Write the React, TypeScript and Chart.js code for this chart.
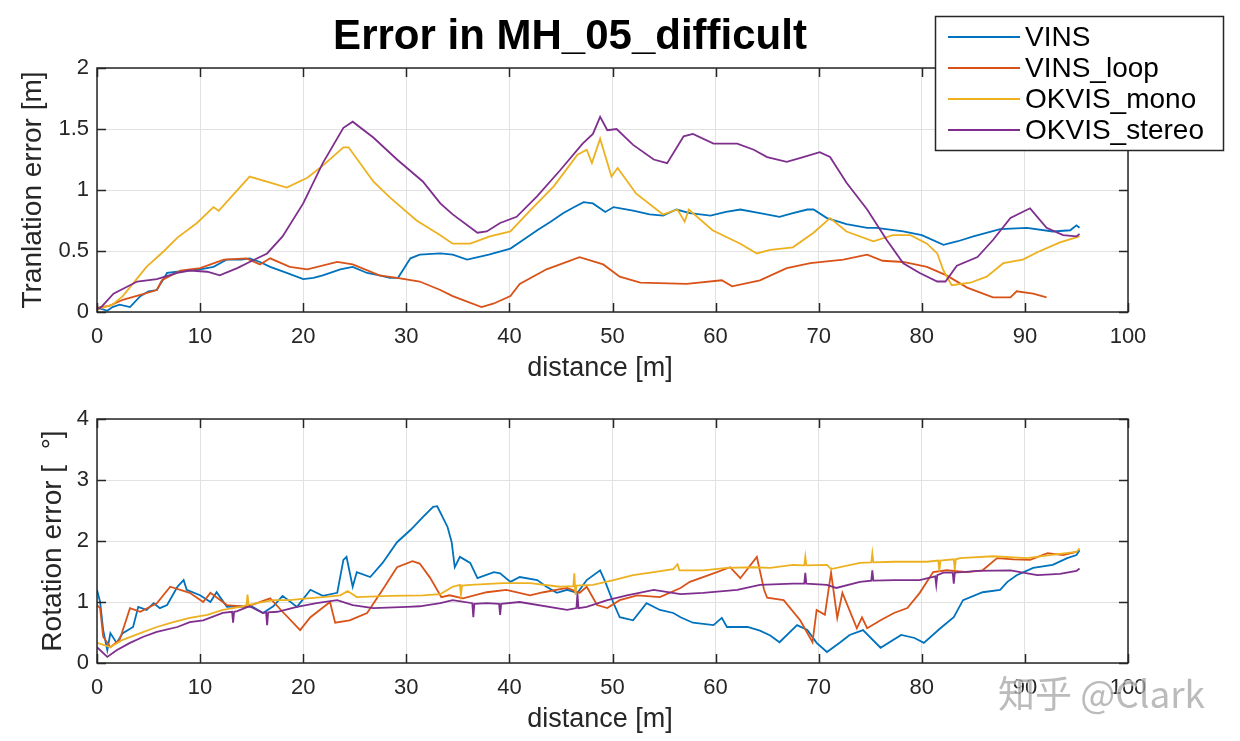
import React, { useEffect, useRef } from "react";
import { Chart, registerables } from "chart.js";

Chart.register(...registerables);

// ---- series meta ----
const SERIES_NAMES = ["VINS", "VINS_loop", "OKVIS_mono", "OKVIS_stereo"];
const SERIES_COLORS = ["#0072BD", "#D95319", "#EDB120", "#7E2F8E"];

const PLOT_TITLE = "Error in MH_05_difficult";
const X_TITLE = "distance [m]";
const TRANS_Y_TITLE = "Tranlation error [m]";
const ROT_Y_TITLE = "Rotation error [  °]";
const WATERMARK = "知乎 @Clark";

const X_MIN = 0;
const X_MAX = 100;
const X_STEP = 10;
const TRANS_Y_MAX = 2;
const TRANS_Y_STEP = 0.5;
const ROT_Y_MAX = 4;
const ROT_Y_STEP = 1;

// ---- translation error [m] vs distance [m] ----
const vinsTranslation: [number, number][] = [
  [0, 0.03], [0.3, 0.03], [1, 0.01], [1.5, 0.04], [2.2, 0.06], [3.2, 0.04], [4.2, 0.13], [5, 0.17],
  [5.8, 0.18], [6.8, 0.32], [7.8, 0.33], [8.7, 0.34], [10, 0.35], [11.3, 0.37], [12.6, 0.43], [14, 0.43],
  [14.8, 0.44], [15.8, 0.41], [16.8, 0.37], [18.4, 0.32], [20, 0.27], [21, 0.28], [21.9, 0.3], [23.6, 0.35],
  [24.8, 0.37], [26.2, 0.32], [27.4, 0.3], [28.4, 0.28], [29.2, 0.28], [30.4, 0.44], [31.3, 0.47], [33.3, 0.48],
  [34.5, 0.47], [35.9, 0.43], [38, 0.47], [40.1, 0.52], [41.5, 0.6], [42.7, 0.67], [44, 0.74], [45.2, 0.81],
  [46.3, 0.86], [47.2, 0.9], [48.1, 0.89], [49.3, 0.82], [50.1, 0.86], [52, 0.83], [53.6, 0.8], [54.9, 0.79],
  [56.2, 0.84], [57.5, 0.81], [59.5, 0.79], [61, 0.82], [62.4, 0.84], [64.3, 0.81], [66.2, 0.78], [67.5, 0.81],
  [68.9, 0.84], [69.5, 0.84], [70.8, 0.77], [72.7, 0.72], [74.7, 0.69], [75.6, 0.69], [78.2, 0.66], [80, 0.63],
  [82.1, 0.55], [83.5, 0.58], [85, 0.62], [87.6, 0.68], [90.2, 0.69], [92.7, 0.66], [94.4, 0.67], [95, 0.71],
  [95.3, 0.69],
];

const vinsLoopTranslation: [number, number][] = [
  [0, 0.03], [0.3, 0.04], [1.2, 0.05], [2.5, 0.1], [4.2, 0.14], [5.8, 0.18], [6.3, 0.26], [8.1, 0.34],
  [10, 0.36], [12.3, 0.43], [14.5, 0.44], [15.8, 0.39], [16.8, 0.44], [18.7, 0.37], [20.4, 0.35], [23.3, 0.41],
  [24.8, 0.39], [27.4, 0.3], [29.1, 0.28], [31.3, 0.25], [33.3, 0.18], [34.5, 0.13], [37.3, 0.04], [38.5, 0.07],
  [40.1, 0.13], [41, 0.23], [43.6, 0.35], [46.8, 0.45], [49.1, 0.39], [50.7, 0.29], [52.7, 0.24], [57.2, 0.23],
  [60.6, 0.26], [61.6, 0.21], [64.3, 0.26], [66.9, 0.36], [69.2, 0.4], [72.4, 0.43], [74.7, 0.47], [76.2, 0.42],
  [78.2, 0.41], [80.5, 0.37], [82.4, 0.3], [84.4, 0.2], [86.9, 0.12], [88.6, 0.12], [89.2, 0.17], [90.8, 0.15],
  [92.1, 0.12],
];

const okvisMonoTranslation: [number, number][] = [
  [0, 0.02], [0.3, 0.03], [1.5, 0.06], [2.5, 0.13], [4.8, 0.37], [6.5, 0.5], [7.8, 0.61], [9.7, 0.73],
  [11.3, 0.86], [11.8, 0.83], [13.2, 0.96], [14.8, 1.11], [16.8, 1.06], [18.4, 1.02], [20.4, 1.1], [21.9, 1.2],
  [23.9, 1.35], [24.4, 1.35], [26.8, 1.07], [28.4, 0.94], [31, 0.75], [33.3, 0.63], [34.5, 0.56], [36.2, 0.56],
  [38.1, 0.62], [40.1, 0.66], [42, 0.83], [44.3, 1.03], [46.6, 1.29], [47.5, 1.33], [48, 1.22], [48.8, 1.42],
  [49.9, 1.11], [50.5, 1.18], [52.3, 0.97], [54.9, 0.8], [56.3, 0.84], [57, 0.74], [57.4, 0.84], [59.7, 0.67],
  [62.4, 0.56], [64, 0.48], [65.3, 0.51], [67.5, 0.53], [69.5, 0.65], [71.1, 0.77], [72.7, 0.66], [75.3, 0.58],
  [77.2, 0.63], [78.9, 0.63], [80.5, 0.56], [81.5, 0.48], [82.1, 0.34], [82.9, 0.22], [84.7, 0.24], [86.3, 0.29],
  [87.9, 0.4], [89.8, 0.43], [91.2, 0.49], [93.4, 0.57], [95.3, 0.62],
];

const okvisStereoTranslation: [number, number][] = [
  [0, 0.03], [0.3, 0.03], [1.6, 0.15], [3.9, 0.25], [5.8, 0.27], [7.8, 0.32], [9, 0.34], [10.7, 0.33],
  [11.9, 0.3], [13.6, 0.36], [14.8, 0.41], [16.5, 0.48], [18, 0.62], [20, 0.89], [21.9, 1.22], [23.9, 1.51],
  [24.8, 1.56], [26.8, 1.43], [29.1, 1.25], [31.6, 1.07], [33.3, 0.89], [34.5, 0.8], [36.9, 0.65], [37.8, 0.66],
  [39.1, 0.73], [40.7, 0.78], [42.7, 0.95], [44.9, 1.16], [47.1, 1.38], [48.1, 1.46], [48.8, 1.6], [49.5, 1.49],
  [50.4, 1.5], [52, 1.37], [54, 1.25], [55.3, 1.22], [56.9, 1.44], [57.8, 1.46], [59.8, 1.38], [62.1, 1.38],
  [63.7, 1.33], [65, 1.27], [66.9, 1.23], [68.5, 1.27], [70.1, 1.31], [71.1, 1.27], [72.7, 1.06], [74.7, 0.84],
  [76.6, 0.59], [78.2, 0.4], [79.8, 0.32], [81.5, 0.25], [82.3, 0.25], [83.4, 0.38], [85.4, 0.45], [86.9, 0.59],
  [88.6, 0.77], [90.5, 0.85], [92.1, 0.69], [93.7, 0.63], [95, 0.62], [95.3, 0.64],
];

// ---- rotation error [deg] vs distance [m] ----
const vinsRotation: [number, number][] = [
  [0, 1.2], [0.3, 1.0], [0.6, 0.54], [1, 0.21], [1.3, 0.49], [1.9, 0.33], [2.5, 0.49], [3.5, 0.59],
  [4, 0.92], [4.8, 0.87], [5.5, 0.98], [6.1, 0.9], [6.8, 0.95], [7.8, 1.25], [8.4, 1.36], [8.7, 1.2],
  [10, 1.11], [11, 1.0], [11.6, 1.16], [12.6, 0.92], [13.9, 0.93], [15.1, 0.92], [16.1, 0.82], [17.1, 0.93],
  [18, 1.1], [19.4, 0.92], [20.7, 1.2], [21.9, 1.1], [23.3, 1.15], [23.9, 1.69], [24.2, 1.74], [24.8, 1.25],
  [25.2, 1.49], [26.5, 1.41], [27.7, 1.64], [29.1, 1.98], [30.4, 2.18], [31.6, 2.39], [32.6, 2.56], [33, 2.57],
  [34, 2.23], [34.4, 1.98], [34.7, 1.57], [35.2, 1.74], [36.2, 1.64], [36.9, 1.39], [38.5, 1.49], [39.1, 1.47],
  [40.1, 1.33], [41, 1.41], [42.7, 1.36], [43.6, 1.25], [44.6, 1.15], [45.6, 1.2], [46.6, 1.15], [47.5, 1.36],
  [48.8, 1.52], [49.3, 1.33], [50.1, 0.98], [50.7, 0.75], [52, 0.7], [53.3, 0.98], [54.6, 0.87], [55.9, 0.82],
  [56.6, 0.75], [57.8, 0.66], [59.8, 0.62], [60.6, 0.74], [61.1, 0.59], [63.1, 0.59], [64.3, 0.53], [65.3, 0.45],
  [66.2, 0.34], [67.9, 0.62], [68.9, 0.54], [69.8, 0.33], [70.8, 0.18], [72.1, 0.34], [73, 0.46], [74.3, 0.54],
  [76, 0.25], [78, 0.46], [79.3, 0.41], [80.2, 0.33], [81.8, 0.57], [83.1, 0.75], [84, 1.03], [85.9, 1.16],
  [87.6, 1.2], [88.3, 1.33], [89.2, 1.44], [90.8, 1.56], [92.7, 1.61], [94.1, 1.72], [95, 1.77], [95.3, 1.85],
];

const vinsLoopRotation: [number, number][] = [
  [0, 0.95], [0.3, 0.9], [0.6, 0.43], [1.3, 0.26], [2.2, 0.38], [3.2, 0.9], [4.2, 0.84], [5.8, 0.98],
  [7.1, 1.25], [9, 1.15], [10.3, 1.0], [11, 1.15], [12.6, 0.95], [14.5, 0.92], [16.8, 1.06], [18, 0.84],
  [19.7, 0.54], [20.7, 0.75], [22.6, 1.0], [23.1, 0.66], [24.5, 0.7], [26.2, 0.82], [27.7, 1.2], [29.1, 1.57],
  [30.6, 1.67], [31.3, 1.63], [32.3, 1.4], [33.4, 1.08], [34.2, 1.11], [35.5, 1.06], [37.8, 1.16], [39.7, 1.2],
  [42, 1.11], [43.3, 1.16], [45.6, 1.23], [46.8, 1.15], [47.5, 1.25], [48.5, 0.95], [49.5, 0.9], [50.7, 1.03],
  [52.4, 1.11], [54.6, 1.08], [56.6, 1.23], [57.5, 1.33], [59.8, 1.47], [61.4, 1.57], [62.4, 1.39], [64, 1.74],
  [64.7, 1.2], [65, 1.07], [66.6, 1.03], [68.2, 0.7], [69.4, 0.34], [69.8, 0.87], [70.6, 0.79], [71.2, 1.48],
  [71.8, 0.74], [72.3, 1.15], [73.7, 0.57], [74.2, 0.75], [74.7, 0.57], [76, 0.7], [77.3, 0.82], [78.6, 0.9],
  [79.8, 1.15], [81.1, 1.49], [82.4, 1.52], [84.4, 1.49], [85.9, 1.52], [87.3, 1.72], [88.9, 1.7], [90.5, 1.69],
  [92.2, 1.8], [93.7, 1.77], [95, 1.82],
];

const okvisMonoRotation: [number, number][] = [
  [0, 0.33], [1.3, 0.26], [2.5, 0.38], [4.2, 0.49], [5.8, 0.59], [7.4, 0.67], [9, 0.74], [10.7, 0.79],
  [12.2, 0.87], [13.9, 0.92], [14.5, 0.95], [14.6, 1.12], [14.7, 0.95], [15.5, 0.98], [17.1, 1.03], [18.7, 1.03],
  [20.4, 1.06], [21.9, 1.08], [23.6, 1.11], [24.3, 1.18], [25.2, 1.08], [28.4, 1.1], [31.6, 1.11], [33.3, 1.13],
  [34.5, 1.25], [35.2, 1.28], [35.3, 1.12], [35.4, 1.27], [36.2, 1.28], [39.4, 1.31], [42, 1.31], [44.9, 1.25],
  [46.2, 1.26], [46.3, 1.47], [46.4, 1.12], [46.5, 1.27], [48.1, 1.28], [50.1, 1.36], [52, 1.44], [54, 1.49],
  [55.9, 1.54], [56.3, 1.62], [56.5, 1.52], [58.8, 1.52], [61.1, 1.56], [63.7, 1.57], [65.3, 1.56], [67.5, 1.61],
  [68.6, 1.6], [68.7, 1.74], [68.8, 1.6], [70.8, 1.61], [71.2, 1.54], [74, 1.64], [75.1, 1.65], [75.2, 1.8],
  [75.3, 1.65], [77.3, 1.66], [80.5, 1.66], [81.6, 1.68], [81.7, 1.5], [81.8, 1.68], [83.1, 1.7], [83.2, 1.52],
  [83.3, 1.7], [83.7, 1.72], [86.9, 1.75], [90.2, 1.72], [92.4, 1.77], [95, 1.82], [95.3, 1.88],
];

const okvisStereoRotation: [number, number][] = [
  [0, 0.26], [1, 0.1], [1.9, 0.21], [3.2, 0.33], [4.5, 0.43], [5.8, 0.51], [7.8, 0.59], [9, 0.67],
  [10.3, 0.7], [12.2, 0.82], [13.1, 0.84], [13.2, 0.66], [13.3, 0.84], [13.6, 0.85], [14.8, 0.93], [16.1, 0.82],
  [16.4, 0.83], [16.5, 0.62], [16.6, 0.83], [17.5, 0.84], [19.4, 0.92], [21.3, 0.98], [23.3, 1.03], [24.8, 0.95],
  [26.8, 0.9], [30.1, 0.92], [31.3, 0.93], [33.3, 0.98], [34.5, 1.03], [36.4, 0.98], [36.5, 0.75], [36.6, 0.97],
  [37.8, 0.98], [39, 0.97], [39.1, 0.79], [39.2, 0.97], [41, 1.0], [45.6, 0.87], [46.5, 0.9], [46.6, 1.13],
  [46.7, 0.9], [47.5, 0.92], [49.5, 1.03], [51.4, 1.11], [54, 1.2], [56.6, 1.13], [58.8, 1.15], [62.1, 1.2],
  [64.3, 1.28], [67.5, 1.3], [68.6, 1.3], [68.7, 1.48], [68.8, 1.3], [70.8, 1.28], [71.7, 1.23], [74, 1.33],
  [75.1, 1.35], [75.2, 1.52], [75.3, 1.35], [77.3, 1.36], [79.8, 1.36], [81.3, 1.42], [81.4, 1.28], [81.5, 1.44],
  [82.1, 1.48], [83, 1.48], [83.1, 1.3], [83.2, 1.48], [85.4, 1.51], [88.6, 1.52], [91.2, 1.44], [93.4, 1.46],
  [95, 1.51], [95.3, 1.55],
];

// ---- styling ----
const FONT_FAMILY = "'Liberation Sans', Arial, Helvetica, sans-serif";
const AXIS_COLOR = "#262626";
const GRID_COLOR = "#e2e2e2";
const TICK_LEN = 9;
const PAGE_W = 1240;
const TOP_H = 390;
const BOTTOM_H = 351;

function makeDatasets(series: [number, number][][]) {
  return series.map((pts, i) => ({
    label: SERIES_NAMES[i],
    data: pts.map(([x, y]) => ({ x, y })),
    borderColor: SERIES_COLORS[i],
    backgroundColor: SERIES_COLORS[i],
    borderWidth: 1.8,
    pointRadius: 0,
    tension: 0,
    order: series.length - 1 - i,
  }));
}

// MATLAB-like axes box with inward tick marks on all four sides
const axesBoxPlugin = {
  id: "axesBox",
  afterDatasetsDraw(chart: any) {
    const { ctx, chartArea: a, scales } = chart;
    ctx.save();
    ctx.strokeStyle = AXIS_COLOR;
    ctx.lineWidth = 1.5;
    ctx.beginPath();
    scales.x.ticks.forEach((t: any) => {
      const px = Math.round(scales.x.getPixelForValue(t.value)) + 0.5;
      ctx.moveTo(px, a.bottom);
      ctx.lineTo(px, a.bottom - TICK_LEN);
      ctx.moveTo(px, a.top);
      ctx.lineTo(px, a.top + TICK_LEN);
    });
    scales.y.ticks.forEach((t: any) => {
      const py = Math.round(scales.y.getPixelForValue(t.value)) + 0.5;
      ctx.moveTo(a.left, py);
      ctx.lineTo(a.left + TICK_LEN, py);
      ctx.moveTo(a.right, py);
      ctx.lineTo(a.right - TICK_LEN, py);
    });
    ctx.stroke();
    ctx.strokeRect(a.left, a.top, a.right - a.left, a.bottom - a.top);
    ctx.restore();
  },
};

// Figure title, x-axis label and boxed legend for the upper axes
const titleLegendPlugin = {
  id: "titleLegend",
  afterDraw(chart: any) {
    const { ctx } = chart;
    ctx.save();
    ctx.fillStyle = "#000";
    ctx.font = `bold 42px ${FONT_FAMILY}`;
    ctx.textAlign = "center";
    ctx.textBaseline = "alphabetic";
    ctx.fillText(PLOT_TITLE, 570, 49);

    const box = { x: 935.5, y: 16.5, w: 288, h: 134 };
    ctx.fillStyle = "#fff";
    ctx.fillRect(box.x, box.y, box.w, box.h);
    ctx.strokeStyle = AXIS_COLOR;
    ctx.lineWidth = 1.5;
    ctx.strokeRect(box.x, box.y, box.w, box.h);

    ctx.font = `28px ${FONT_FAMILY}`;
    ctx.textAlign = "left";
    ctx.textBaseline = "middle";
    chart.data.datasets.forEach((ds: any, i: number) => {
      const y = 37 + i * 31;
      ctx.strokeStyle = ds.borderColor;
      ctx.lineWidth = 1.8;
      ctx.beginPath();
      ctx.moveTo(948, y);
      ctx.lineTo(1020, y);
      ctx.stroke();
      ctx.fillStyle = "#000";
      ctx.fillText(ds.label, 1025, y + 1);
    });
    ctx.restore();
  },
};

// x-axis label, centred a little left of the axes' midpoint
const xLabelPlugin = {
  id: "xLabel",
  afterDraw(chart: any) {
    const { ctx, chartArea: a } = chart;
    ctx.save();
    ctx.fillStyle = AXIS_COLOR;
    ctx.font = `27px ${FONT_FAMILY}`;
    ctx.textAlign = "center";
    ctx.textBaseline = "alphabetic";
    ctx.fillText(X_TITLE, 600, a.bottom + 64);
    ctx.restore();
  },
};

const watermarkPlugin = {
  id: "watermark",
  afterDraw(chart: any) {
    const { ctx } = chart;
    ctx.save();
    ctx.font = `37px 'Noto Sans CJK SC', ${FONT_FAMILY}`;
    ctx.textAlign = "left";
    ctx.textBaseline = "alphabetic";
    ctx.lineWidth = 2;
    ctx.strokeStyle = "rgba(255,255,255,0.6)";
    ctx.strokeText(WATERMARK, 998, 318);
    ctx.fillStyle = "rgba(150,150,150,0.65)";
    ctx.fillText(WATERMARK, 998, 318);
    ctx.restore();
  },
};

function makeOptions(cfg: {
  yMax: number;
  yStep: number;
  yTitle: string;
  yTitlePad: number;
  padTop: number;
  padBottom: number;
}) {
  const tickFont = { family: FONT_FAMILY, size: 22 };
  const titleFont = { family: FONT_FAMILY, size: 28 };
  return {
    responsive: false,
    maintainAspectRatio: false,
    animation: false as const,
    events: [] as any[],
    layout: { padding: { left: 0, right: PAGE_W - 1128, top: cfg.padTop, bottom: cfg.padBottom } },
    plugins: {
      legend: { display: false },
      tooltip: { enabled: false },
      title: { display: false },
    },
    scales: {
      x: {
        type: "linear" as const,
        min: X_MIN,
        max: X_MAX,
        ticks: { stepSize: X_STEP, font: tickFont, color: AXIS_COLOR, padding: 12, maxRotation: 0, autoSkip: false },
        grid: { color: GRID_COLOR, lineWidth: 1, drawTicks: false },
        border: { display: false },
        title: { display: false },
        afterFit: (s: any) => {
          s.height = 70;
        },
      },
      y: {
        type: "linear" as const,
        min: 0,
        max: cfg.yMax,
        ticks: {
          stepSize: cfg.yStep,
          font: tickFont,
          color: AXIS_COLOR,
          padding: 8,
          callback: (v: any) => String(Number(v)),
        },
        grid: { color: GRID_COLOR, lineWidth: 1, drawTicks: false },
        border: { display: false },
        title: {
          display: true,
          text: cfg.yTitle,
          font: titleFont,
          color: AXIS_COLOR,
          padding: { top: cfg.yTitlePad, bottom: 0 },
        },
        afterFit: (s: any) => {
          s.width = 97;
        },
      },
    },
  };
}

export default function App() {
  const topRef = useRef<HTMLCanvasElement | null>(null);
  const bottomRef = useRef<HTMLCanvasElement | null>(null);

  useEffect(() => {
    if (!topRef.current || !bottomRef.current) return;
    const top = new Chart(topRef.current, {
      type: "line",
      data: {
        datasets: makeDatasets([vinsTranslation, vinsLoopTranslation, okvisMonoTranslation, okvisStereoTranslation]),
      },
      options: makeOptions({
        yMax: TRANS_Y_MAX,
        yStep: TRANS_Y_STEP,
        yTitle: TRANS_Y_TITLE,
        yTitlePad: 16,
        padTop: 68,
        padBottom: TOP_H - 312 - 70,
      }) as any,
      plugins: [axesBoxPlugin, xLabelPlugin, titleLegendPlugin],
    });
    const bottom = new Chart(bottomRef.current, {
      type: "line",
      data: {
        datasets: makeDatasets([vinsRotation, vinsLoopRotation, okvisMonoRotation, okvisStereoRotation]),
      },
      options: makeOptions({
        yMax: ROT_Y_MAX,
        yStep: ROT_Y_STEP,
        yTitle: ROT_Y_TITLE,
        yTitlePad: 36,
        padTop: 419 - TOP_H,
        padBottom: BOTTOM_H - (663 - TOP_H) - 70,
      }) as any,
      plugins: [axesBoxPlugin, xLabelPlugin, watermarkPlugin],
    });
    return () => {
      top.destroy();
      bottom.destroy();
    };
  }, []);

  return (
    <div style={{ position: "absolute", left: 0, top: 0, width: PAGE_W, height: TOP_H + BOTTOM_H, background: "#fff" }}>
      <canvas ref={topRef} width={PAGE_W} height={TOP_H} style={{ position: "absolute", left: 0, top: 0 }} />
      <canvas
        ref={bottomRef}
        width={PAGE_W}
        height={BOTTOM_H}
        style={{ position: "absolute", left: 0, top: TOP_H }}
      />
    </div>
  );
}
